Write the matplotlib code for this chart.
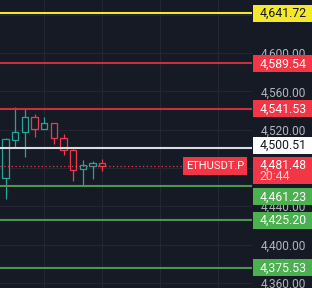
import matplotlib.pyplot as plt
from matplotlib.patches import Rectangle
from matplotlib.transforms import blended_transform_factory

plt.rcParams['font.family'] = ['Roboto', 'DejaVu Sans']

# candles, oldest first
opens  = [4469.2, 4509.4, 4517.2, 4532.8, 4520.9, 4526.6, 4510.7, 4499.0, 4478.9, 4482.3, 4484.8]
highs  = [4511.0, 4543.6, 4541.5, 4536.3, 4532.8, 4526.6, 4515.1, 4499.5, 4488.3, 4487.2, 4489.0]
lows   = [4447.5, 4501.1, 4491.7, 4512.6, 4520.9, 4505.3, 4493.8, 4466.7, 4462.2, 4468.4, 4477.1]
closes = [4510.2, 4517.5, 4532.8, 4520.9, 4526.6, 4510.7, 4499.0, 4478.1, 4483.0, 4484.8, 4481.48]

# horizontal levels drawn on the chart
levels = [4641.72, 4589.54, 4541.53, 4500.51, 4461.23, 4425.20, 4375.53]
level_kind = ['yellow', 'red', 'red', 'white', 'green', 'green', 'green']

symbol = 'ETHUSDT.P'
last_price = 4481.48
countdown = '20:44'

grid_prices = [4360, 4400, 4440, 4480, 4520, 4560, 4600, 4640]
# 4480 and 4640 sit fully under the tags, so they get no label
yticks = [4360, 4400, 4440, 4520, 4560, 4600]

# style
BG = '#161a25'
GRID = '#242733'
UP = '#26a69a'
DOWN = '#ef3a4c'
line_col = {'yellow': '#f5e72a', 'red': '#c8303d', 'white': '#dcdde0', 'green': '#4b9451'}
tag_bg = {'yellow': '#f5e72a', 'red': '#f23645', 'white': '#ffffff', 'green': '#4caf50'}
tag_fg = {'yellow': '#131722', 'red': '#ffffff', 'white': '#131722', 'green': '#ffffff'}
# vertical nudge of a tag in pixels (positive = down), to avoid overlaps
tag_nudge = [0, 1, 0, -3, 11, 0, 0]

W, H = 312, 288
AX_W = 252
fig = plt.figure(figsize=(W / 100, H / 100), dpi=100)
fig.patch.set_facecolor(BG)
ax = fig.add_axes([0, 0, AX_W / W, 1])
ax.set_facecolor(BG)

ymin, ymax = 4354.6, 4655.3
ax.set_ylim(ymin, ymax)
ax.set_xlim(-0.57, 25.47)
dpu = (ymax - ymin) / H  # price units per pixel

for s in ax.spines.values():
    s.set_visible(False)

# grid
for gx in [4, 10, 16, 22]:
    ax.axvline(gx, color=GRID, lw=0.8, zorder=0)
for gy in grid_prices:
    ax.axhline(gy, color=GRID, lw=0.8, zorder=0)

# candles (hollow)
for i in range(len(opens)):
    o, h, l, c = opens[i], highs[i], lows[i], closes[i]
    col = UP if c >= o else DOWN
    ax.plot([i, i], [l, h], color=col, lw=0.9, zorder=2, solid_capstyle='butt')
    bot, top = min(o, c), max(o, c)
    ax.add_patch(Rectangle((i - 0.33, bot), 0.66, max(top - bot, 0.5),
                           facecolor=BG, edgecolor=col, lw=0.9, zorder=3))

# price scale
ax.yaxis.tick_right()
ax.set_yticks(yticks)
ax.set_yticklabels([f'{v:,.2f}' for v in yticks])
ax.tick_params(axis='y', length=0, pad=6, labelsize=8.6, labelcolor='#b2b5be')
ax.tick_params(axis='x', length=0, labelbottom=False)

tr = blended_transform_factory(ax.transAxes, ax.transData)
x_tag = 1.0 + 1 / AX_W
x_txt = 1.0 + 8 / AX_W
tag_w = (W - AX_W) / AX_W

for p, k, n in zip(levels, level_kind, tag_nudge):
    ax.axhline(p, color=line_col[k], lw=1.5, zorder=4)
    cy = p - n * dpu
    hh = 8.5 * dpu
    ax.add_patch(Rectangle((x_tag, cy - hh), tag_w, 2 * hh, transform=tr,
                           facecolor=tag_bg[k], edgecolor='none', clip_on=False, zorder=6))
    ax.text(x_txt, cy, f'{p:,.2f}', transform=tr, ha='left', va='center',
            fontsize=8.8, color=tag_fg[k], clip_on=False, zorder=7)

# last price line + tags
ax.axhline(last_price, xmin=0, xmax=183 / AX_W, color=DOWN, lw=0.9,
           ls=(0, (1, 2)), zorder=4)
ax.add_patch(Rectangle((183 / AX_W, last_price - 9 * dpu), 64 / AX_W, 18 * dpu,
                       transform=tr, facecolor='#f23645', edgecolor='none', zorder=6))
ax.text(215.5 / AX_W, last_price, symbol, transform=tr, ha='center', va='center',
        fontsize=8.0, color='white', zorder=7)

top = last_price + 9 * dpu
ax.add_patch(Rectangle((x_tag, top - 27 * dpu), tag_w, 27 * dpu, transform=tr,
                       facecolor='#f23645', edgecolor='none', clip_on=False, zorder=6))
ax.text(x_txt, top - 7.5 * dpu, f'{last_price:,.2f}', transform=tr, ha='left',
        va='center', fontsize=8.8, color='white', clip_on=False, zorder=7)
ax.text(x_txt, top - 19.5 * dpu, countdown, transform=tr, ha='left',
        va='center', fontsize=8.8, color='#ffd0d5', clip_on=False, zorder=7)

fig.savefig('out.png', dpi=100, facecolor=BG)
